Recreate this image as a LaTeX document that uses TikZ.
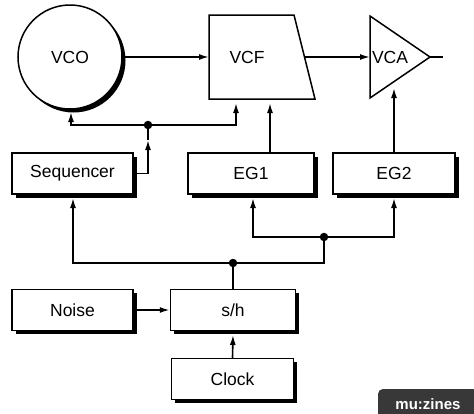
\documentclass[tikz,border=0pt]{standalone}
\usepackage{fontspec}
\setmainfont{Liberation Sans}
\usetikzlibrary{arrows.meta,shadows}
\begin{document}
\begin{tikzpicture}[x=1pt,y=-1pt,
  ln/.style={line width=1.6pt},
  arr/.style={ln,-{Latex[length=10pt,width=6pt]}},
  shd/.style={drop shadow={shadow xshift=3.5pt,shadow yshift=-3.5pt,fill=black,opacity=1}},
  lbl/.style={font=\fontsize{17.5}{20}\selectfont},
  box/.style={draw,line width=1.5pt,fill=white,minimum height=41pt,inner sep=0pt,lbl,shd},
  dot/.style={circle,fill=black,inner sep=0pt,minimum size=8.5pt},
]
\useasboundingbox[fill=white] (0,0) rectangle (474,413);

% VCO
\node[circle,draw,line width=1.5pt,fill=white,minimum size=104pt,inner sep=0pt,lbl,shd] (vco) at (70,57) {VCO};

% VCF trapezoid
\coordinate (f1) at (209,15);
\coordinate (f2) at (294,15);
\coordinate (f3) at (315,99);
\coordinate (f4) at (209,99);
\fill[black,shift={(3.5,3.5)}] (f1) -- (f2) -- (f3) -- (f4) -- cycle;
\filldraw[fill=white,line width=1.5pt,line join=miter] (f1) -- (f2) -- (f3) -- (f4) -- cycle;
\node[lbl] (vcf) at (247,57) {VCF};

% VCA triangle
\coordinate (a1) at (370,16);
\coordinate (a2) at (430,57);
\coordinate (a3) at (370,98);
\fill[black,shift={(3,3.5)}] (a1) -- (a2) -- (a3) -- cycle;
\filldraw[fill=white,line width=1.5pt,line join=miter] (a1) -- (a2) -- (a3) -- cycle;
\node[lbl] (vca) at (390,57) {VCA};

% boxes
\node[box,minimum width=121pt] (seq) at (72.5,173.5) {Sequencer};
\node[box,minimum width=126pt] (eg1) at (251,173.5) {EG1};
\node[box,minimum width=122pt] (eg2) at (394,173.5) {EG2};
\node[box,minimum width=121pt] (noise) at (72.5,310) {Noise};
\node[box,minimum width=125pt] (sh) at (233,310) {s/h};
\node[box,minimum width=122pt] (clock) at (232.5,379) {Clock};

% junctions
\node[dot] (d1) at (148,125) {};
\node[dot] (d2) at (324,237) {};
\node[dot] (d3) at (233,263) {};

% coordinates
\coordinate (vcfin) at (209,57);
\coordinate (vcfout) at (304.5,57);
\coordinate (vcain) at (370,57);
\coordinate (out) at (443,57);
\coordinate (vcoin) at (71,112);
\coordinate (vcfin2) at (236,103);
\coordinate (vcfin3) at (270,103);
\coordinate (eg1top) at (270,153);
\coordinate (vcain2) at (394,88);
\coordinate (eg2top) at (394,153);
\coordinate (seqtip) at (148,140);
\coordinate (seqin) at (73,198);
\coordinate (eg1in) at (253,198);
\coordinate (eg2in) at (394,198);
\coordinate (shin) at (233,335);

% connectors
\draw[arr] (vco.east) -- (vcfin);
\draw[arr] (vcfout) -- (vcain);
\draw[ln] (a2) -- (out);
\draw[arr] (d1) -| (vcoin);
\draw[arr] (d1) -| (vcfin2);
\draw[arr] (seq.east) -| (seqtip);
\draw[ln] (seqtip) -- (d1);
\draw[arr] (eg1top) -- (vcfin3);
\draw[arr] (eg2top) -- (vcain2);
\draw[arr] (d2) -| (eg1in);
\draw[arr] (d2) -| (eg2in);
\draw[ln] (d3) -| (d2);
\draw[arr] (d3) -| (seqin);
\draw[ln] (d3) -- (sh.north);
\draw[arr] (noise.east) -- (sh.west);
\draw[arr] (clock.north) -- (shin);

% badge
\node[fill=black!78,rounded corners=5pt,minimum width=100pt,minimum height=30pt,text=white,
      font=\bfseries\fontsize{15}{16}\selectfont] (wm) at (428,404) {mu:zines};
\end{tikzpicture}
\end{document}
